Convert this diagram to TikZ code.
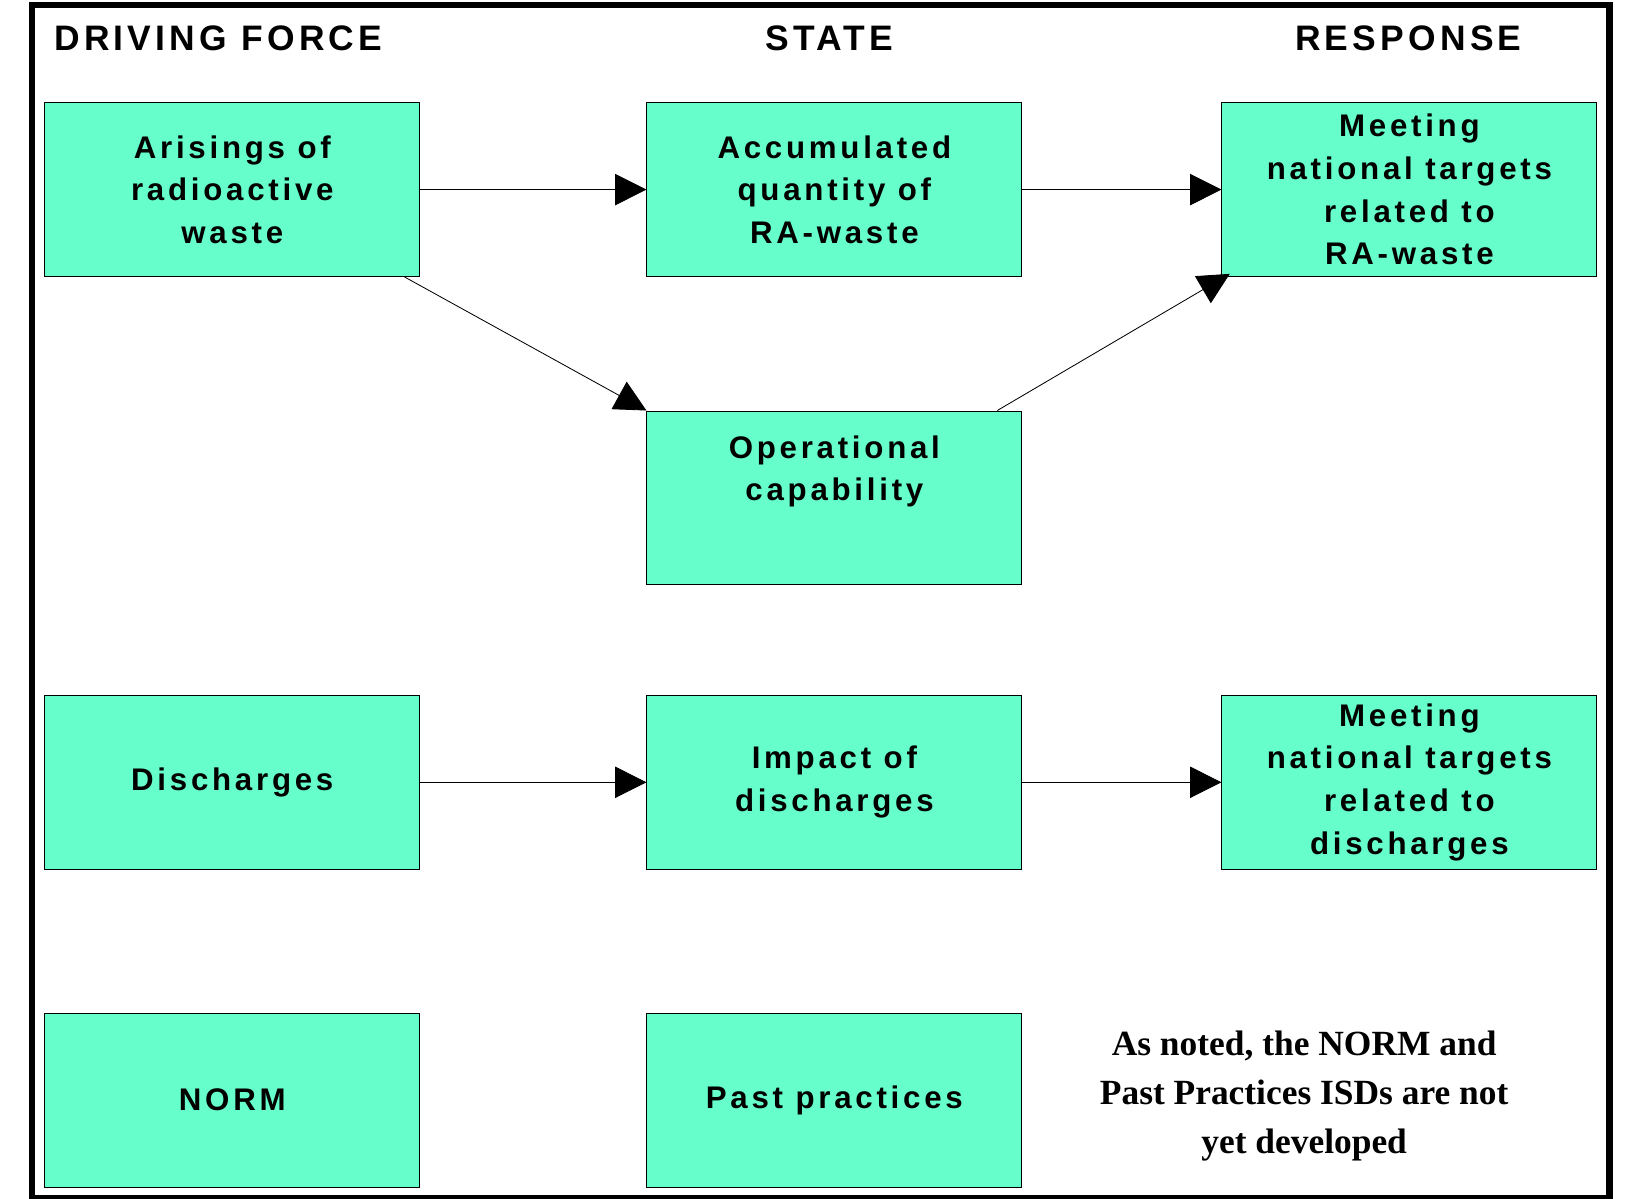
\documentclass[tikz,border=0pt]{standalone}
\usepackage{fontspec}
\setmainfont{Liberation Sans}
\newfontfamily\notefont{Liberation Serif}
\usetikzlibrary{arrows.meta,calc}
\definecolor{boxgreen}{HTML}{66FFCC}
\newfontfamily\boxfont[LetterSpace=12]{Liberation Sans}

\begin{document}
\begin{tikzpicture}[x=0.5pt,y=-0.5pt,
    box/.style={draw,fill=boxgreen,minimum width=180pt,minimum height=83.5pt,inner sep=0pt,
        align=center,font=\boxfont\bfseries\fontsize{15}{20.5}\selectfont},
    head/.style={font=\boxfont\bfseries\fontsize{17}{20}\selectfont},
    link/.style={-{Triangle[length=15pt,width=15pt]},thin}]
    \useasboundingbox (0,0) rectangle (1560,1151);
    \draw[line width=3pt] (31,5) rectangle (1545,1150);

    \node[head,anchor=west] (hdrive) at (45,37) {DRIVING FORCE};
    \node[head] (hstate) at (796,37) {STATE};
    \node[head] (hresp) at (1352,37) {RESPONSE};

    \node[box] (arise) at (223,182) {Arisings of\\radioactive\\waste};
    \node[box] (accum) at (801,182) {Accumulated\\quantity of\\RA-waste};
    \node[box] (target1) at (1353,182) {Meeting\\national targets\\related to\\RA-waste};
    \node[box] (oper) at (801,478) {Operational\\capability\\[8pt]};
    \node[box] (disch) at (223,751) {Discharges};
    \node[box] (impact) at (801,751) {Impact of\\discharges};
    \node[box] (target2) at (1353,751) {Meeting\\national targets\\related to\\discharges};
    \node[box] (norm) at (223,1056) {NORM};
    \node[box] (past) at (801,1056) {Past practices};
    \node[align=center,font=\notefont\bfseries\fontsize{17}{23.5}\selectfont] (note) at (1252,1052)
        {As noted, the NORM and\\Past Practices ISDs are not\\yet developed};

    \coordinate (a1) at ($(arise.south east)+(-15,0)$);
    \coordinate (o1) at ($(oper.north west)+(0,0)$);
    \coordinate (o2) at ($(oper.north east)+(-24,0)$);
    \coordinate (t1) at ($(target1.south west)+(8,-3)$);

    \draw[link] (arise) -- (accum);
    \draw[link] (accum) -- (target1);
    \draw[link] (a1) -- (o1);
    \draw[link] (o2) -- (t1);
    \draw[link] (disch) -- (impact);
    \draw[link] (impact) -- (target2);
\end{tikzpicture}
\end{document}
